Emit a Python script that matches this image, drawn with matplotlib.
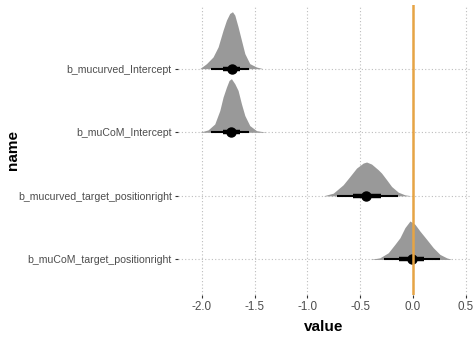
import matplotlib
matplotlib.use('Agg')
import matplotlib.pyplot as plt
import numpy as np

plt.rcParams['font.family'] = ['Liberation Sans', 'DejaVu Sans']

# parameter names, bottom row first
names = ['b_muCoM_target_positionright',
         'b_mucurved_target_positionright',
         'b_muCoM_Intercept',
         'b_mucurved_Intercept']

# posterior slab outlines: x positions and heights (in row units)
slab_x = [
    [-0.408, -0.313, -0.234, -0.171, -0.123, -0.076, -0.028, 0.019,
     0.066, 0.130, 0.193, 0.256, 0.319, 0.367],
    [-0.850, -0.755, -0.661, -0.597, -0.534, -0.471, -0.439, -0.392,
     -0.329, -0.297, -0.249, -0.202, -0.139, -0.076, -0.012],
    [-2.019, -1.940, -1.877, -1.829, -1.798, -1.766, -1.741, -1.719,
     -1.687, -1.656, -1.624, -1.592, -1.545, -1.482, -1.387],
    [-2.019, -1.955, -1.893, -1.845, -1.798, -1.766, -1.735, -1.709,
     -1.687, -1.656, -1.624, -1.592, -1.545, -1.482, -1.419],
]
slab_h = [
    [0.0, 0.026, 0.105, 0.237, 0.342, 0.500, 0.605, 0.553,
     0.447, 0.316, 0.184, 0.079, 0.026, 0.0],
    [0.0, 0.042, 0.174, 0.305, 0.437, 0.516, 0.532, 0.500,
     0.411, 0.358, 0.253, 0.147, 0.058, 0.016, 0.0],
    [0.0, 0.037, 0.130, 0.342, 0.553, 0.710, 0.816, 0.842,
     0.763, 0.658, 0.447, 0.263, 0.105, 0.026, 0.0],
    [0.0, 0.079, 0.184, 0.342, 0.605, 0.763, 0.868, 0.895,
     0.842, 0.658, 0.447, 0.237, 0.079, 0.026, 0.0],
]

# median, 66% and 95% intervals
medians = [-0.01, -0.44, -1.72, -1.715]
lo66 = [-0.13, -0.57, -1.80, -1.80]
hi66 = [0.10, -0.30, -1.64, -1.64]
lo95 = [-0.27, -0.72, -1.91, -1.91]
hi95 = [0.26, -0.14, -1.55, -1.55]

xticks = [-2.0, -1.5, -1.0, -0.5, 0.0, 0.5]
ref_line = 0.0

fig = plt.figure(figsize=(4.74, 3.38), dpi=100)
ax = fig.add_axes([0.3755, 0.127, 0.616, 0.858])

grid_kw = dict(color='#BDBDBD', lw=0.8, ls=(0, (1, 2)), zorder=0)
for xt in xticks:
    ax.axvline(xt, **grid_kw)
for i in range(len(names)):
    ax.axhline(i + 1, **grid_kw)

for i in range(len(names)):
    y0 = i + 1
    xs = np.array(slab_x[i])
    hs = np.array(slab_h[i])
    ax.fill_between(xs, y0, y0 + hs, color='#999999', lw=0, zorder=2)
    ax.plot([lo95[i], hi95[i]], [y0, y0], color='black', lw=1.5,
            solid_capstyle='butt', zorder=3)
    ax.plot([lo66[i], hi66[i]], [y0, y0], color='black', lw=3.2,
            solid_capstyle='butt', zorder=3)
    ax.plot(medians[i], y0, 'o', color='black', ms=6.5, zorder=4)

ax.axvline(ref_line, color='#E6A445', lw=1.8, zorder=5)

ax.set_xlim(-2.225, 0.54)
ax.set_ylim(0.44, 5.0)
ax.set_xticks(xticks)
ax.set_xticklabels([f'{v:.1f}' for v in xticks])
ax.set_yticks(range(1, len(names) + 1))
ax.set_yticklabels(names)
ax.tick_params(axis='both', labelcolor='#4D4D4D',
               color='#333333', length=2.5, width=0.8, pad=2)
ax.tick_params(axis='y', labelsize=7.6)
ax.tick_params(axis='x', labelsize=8.4)

for s in ax.spines.values():
    s.set_visible(False)

ax.set_xlabel('value', fontsize=11, fontweight='bold', labelpad=5)
ax.set_ylabel('name', fontsize=11, fontweight='bold')
ax.yaxis.set_label_coords(-0.54, 0.5)

fig.savefig('out.png', dpi=100)
